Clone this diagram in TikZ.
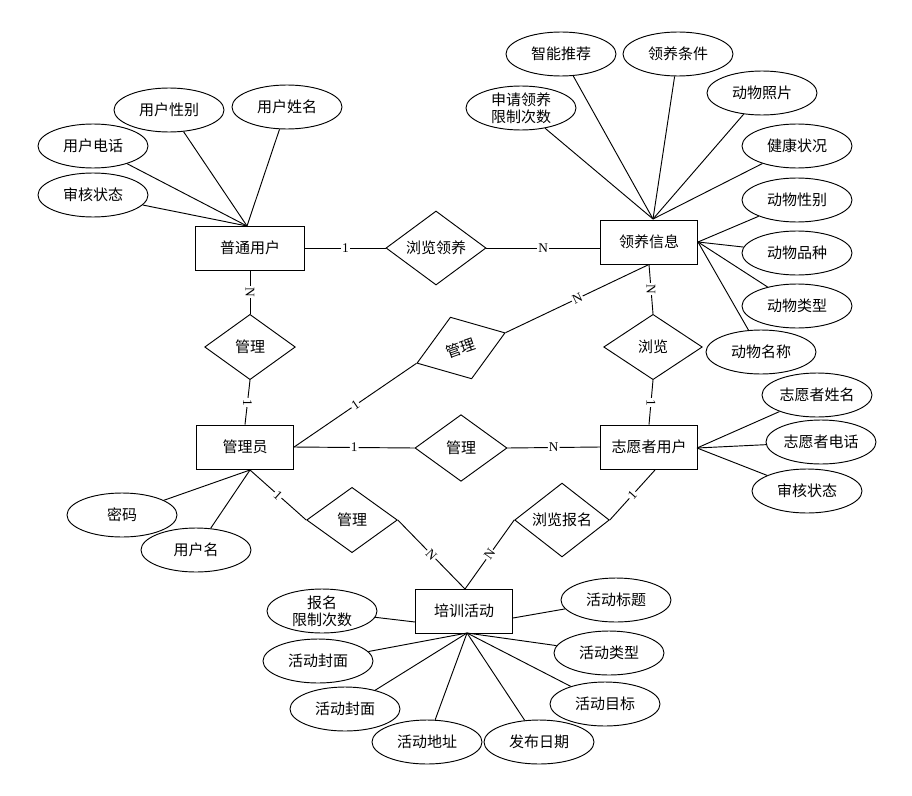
\documentclass[tikz,border=0pt]{standalone}
\usepackage{fontspec}
\setmainfont{Liberation Serif}
\newfontfamily\cjk{Noto Sans CJK SC}
\usetikzlibrary{shapes.geometric}
\begin{document}
\begin{tikzpicture}[x=0.75pt,y=-0.75pt,line width=0.7pt,
  every node/.style={font=\cjk\fontsize{11.25}{13}\selectfont},
  ent/.style={draw, rectangle, minimum width=73pt, minimum height=33pt, inner sep=0pt},
  attr/.style={draw, ellipse, minimum width=82.5pt, minimum height=33pt, inner sep=0pt},
  attr2/.style={attr, align=center, font=\cjk\fontsize{11.25}{12.5}\selectfont},
  rel/.style={draw, diamond, minimum width=69pt, minimum height=49pt, inner sep=0pt},
  card/.style={font=\fontsize{10}{11}\selectfont, fill=white, inner sep=0.8pt, midway, sloped},
  vcard/.style={font=\fontsize{10}{11}\selectfont, fill=white, inner sep=0.8pt, midway, rotate=-90}
]
\useasboundingbox (0,0) rectangle (912,795);

% entities
\node[ent, minimum width=82pt] (pu) at (250,248) {普通用户};
\node[ent] (ly) at (649,242) {领养信息};
\node[ent] (adm) at (245,447) {管理员};
\node[ent] (vol) at (649,447) {志愿者用户};
\node[ent] (px) at (464,611) {培训活动};

% relationships
\node[rel, minimum width=75pt, minimum height=51pt] (lll) at (436,248) {浏览领养};
\node[rel, minimum width=68pt] (gl1) at (250,347) {管理};
\node[rel, minimum width=70pt, rotate=19] (gl2) at (461,348) {管理};
\node[rel, minimum width=74pt] (ll) at (653,347) {浏览};
\node[rel, minimum width=69pt, minimum height=50pt] (gl3) at (461,448) {管理};
\node[rel, minimum width=68pt] (gl4) at (352,520) {管理};
\node[rel, minimum width=71pt, minimum height=50pt] (llbm) at (562,520) {浏览报名};

% convergence points
\coordinate (puT) at (247,226);
\coordinate (lyT) at (653,219);
\coordinate (lyR) at (698,242);
\coordinate (lyL) at (600,248);
\coordinate (admB) at (250,470);
\coordinate (volR) at (697,448);
\coordinate (volB) at (655,470);
\coordinate (pxT) at (465,589);
\coordinate (pxB) at (467,633);
\coordinate (pxL) at (415,622);
\coordinate (pxR) at (513,618);

% attributes of 普通用户
\node[attr] (a1) at (169,110) {用户性别};
\node[attr] (a2) at (287,107) {用户姓名};
\node[attr] (a3) at (93,146) {用户电话};
\node[attr] (a4) at (93,195) {审核状态};
\foreach \a in {a1,a2,a3,a4} \draw (\a) -- (puT);

% attributes of 领养信息
\node[attr] (b1) at (561,54) {智能推荐};
\node[attr] (b2) at (678,54) {领养条件};
\node[attr2] (b3) at (521,108) {申请领养\\限制次数};
\node[attr] (b4) at (762,93) {动物照片};
\node[attr] (b5) at (797,146) {健康状况};
\node[attr] (b6) at (797,200) {动物性别};
\node[attr] (b7) at (797,253) {动物品种};
\node[attr] (b8) at (797,306) {动物类型};
\node[attr] (b9) at (761,352) {动物名称};
\foreach \a in {b1,b2,b3,b4,b5} \draw (\a) -- (lyT);
\foreach \a in {b6,b7,b8,b9} \draw (\a) -- (lyR);

% attributes of 志愿者用户
\node[attr] (c1) at (817,395) {志愿者姓名};
\node[attr] (c2) at (821,442) {志愿者电话};
\node[attr] (c3) at (807,491) {审核状态};
\foreach \a in {c1,c2,c3} \draw (\a) -- (volR);

% attributes of 管理员
\node[attr] (d1) at (122,515) {密码};
\node[attr] (d2) at (196,550) {用户名};
\foreach \a in {d1,d2} \draw (\a) -- (admB);

% attributes of 培训活动
\node[attr2] (e1) at (322,611) {报名\\限制次数};
\node[attr] (e2) at (318,661) {活动封面};
\node[attr] (e3) at (345,709) {活动封面};
\node[attr] (e4) at (427,742) {活动地址};
\node[attr] (e5) at (539,742) {发布日期};
\node[attr] (e6) at (616,600) {活动标题};
\node[attr] (e7) at (609,653) {活动类型};
\node[attr] (e8) at (605,704) {活动目标};
\draw (e1) -- (pxL);
\draw (e6) -- (pxR);
\foreach \a in {e2,e3,e4,e5,e7,e8} \draw (\a) -- (pxB);

% relationship connectors
\draw (pu.east) -- node[card] {1} (lll.west);
\draw (lll.east) -- node[card] {N} (lyL);
\draw (pu.south) -- node[vcard] {N} (gl1.north);
\draw (gl1.south) -- node[vcard] {1} (adm.north);
\draw (adm.east) -- node[card] {1} (gl2.west);
\draw (gl2.east) -- node[card] {N} (ly.south);
\draw (ly.south) -- node[vcard] {N} (ll.north);
\draw (ll.south) -- node[vcard] {1} (vol.north);
\draw (adm.east) -- node[card] {1} (gl3.west);
\draw (gl3.east) -- node[card] {N} (vol.west);
\draw (admB) -- node[card] {1} (gl4.west);
\draw (gl4.east) -- node[card] {N} (pxT);
\draw (volB) -- node[card] {1} (llbm.east);
\draw (llbm.west) -- node[card] {N} (pxT);
\end{tikzpicture}
\end{document}
